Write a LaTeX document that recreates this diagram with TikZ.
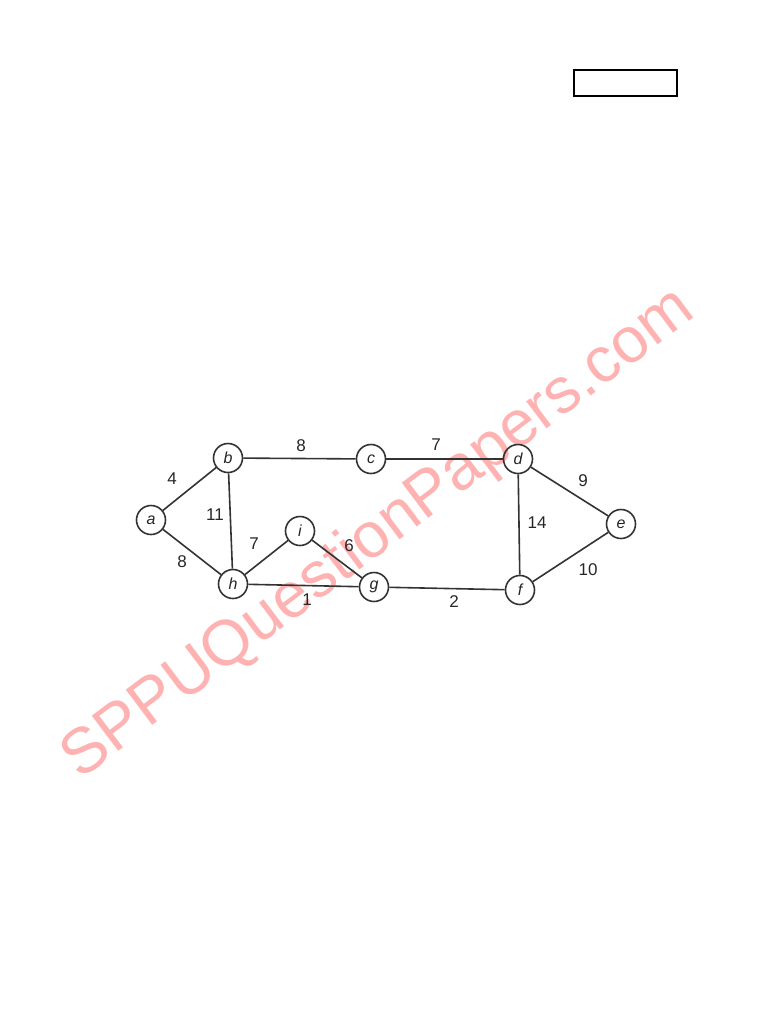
\documentclass[tikz,border=0pt]{standalone}
\usepackage{fontspec}
\setmainfont{Liberation Sans}
\tikzstyle{vertex}=[circle, draw=black!80, line width=0.8pt, minimum size=14.5pt, inner sep=0pt, text=black!85, font=\fontsize{8}{9}\selectfont\itshape]
\tikzstyle{weight}=[inner sep=0pt, text=black!85, font=\fontsize{8.5}{10}\selectfont]

\begin{document}
\begin{tikzpicture}[x=0.5pt, y=-0.5pt, line width=0.8pt, black!80]
\useasboundingbox (0,0) rectangle (768,1024);
% Watermark
    \node[text=red!30, rotate=37, anchor=base, inner sep=0pt, font=\fontsize{32}{36}\selectfont] (mark) at (389,548) {SPPUQuestionPapers.com};
% Box
    \draw[black] (574,70) rectangle (677,96);
% Vertices
    \node[vertex] (a) at (151,520) {a};
    \node[vertex] (b) at (228,458) {b};
    \node[vertex] (c) at (371,459) {c};
    \node[vertex] (d) at (518,459) {d};
    \node[vertex] (e) at (621,524) {e};
    \node[vertex] (f) at (520,590) {f};
    \node[vertex] (g) at (374,587) {g};
    \node[vertex] (h) at (233,584) {h};
    \node[vertex] (i) at (300,531) {i};
% Edges with weights
    \draw (a) -- node[weight, shift={(-17.5,-10)}] {4} (b);
    \draw (b) -- node[weight, shift={(1.5,-12.5)}] {8} (c);
    \draw (c) -- node[weight, shift={(-8.5,-14)}] {7} (d);
    \draw (d) -- node[weight, shift={(13.5,-10.5)}] {9} (e);
    \draw (b) -- node[weight, shift={(-15.5,-6)}] {11} (h);
    \draw (h) -- node[weight, shift={(-12.5,-13.5)}] {7} (i);
    \draw (i) -- node[weight, shift={(12,-13)}] {6} (g);
    \draw (d) -- node[weight, shift={(18,-1.5)}] {14} (f);
    \draw (a) -- node[weight, shift={(-10,10)}] {8} (h);
    \draw (h) -- node[weight, shift={(3.5,14.5)}] {1} (g);
    \draw (g) -- node[weight, shift={(7,13.5)}] {2} (f);
    \draw (e) -- node[weight, shift={(17.5,13)}] {10} (f);
\end{tikzpicture}
\end{document}
